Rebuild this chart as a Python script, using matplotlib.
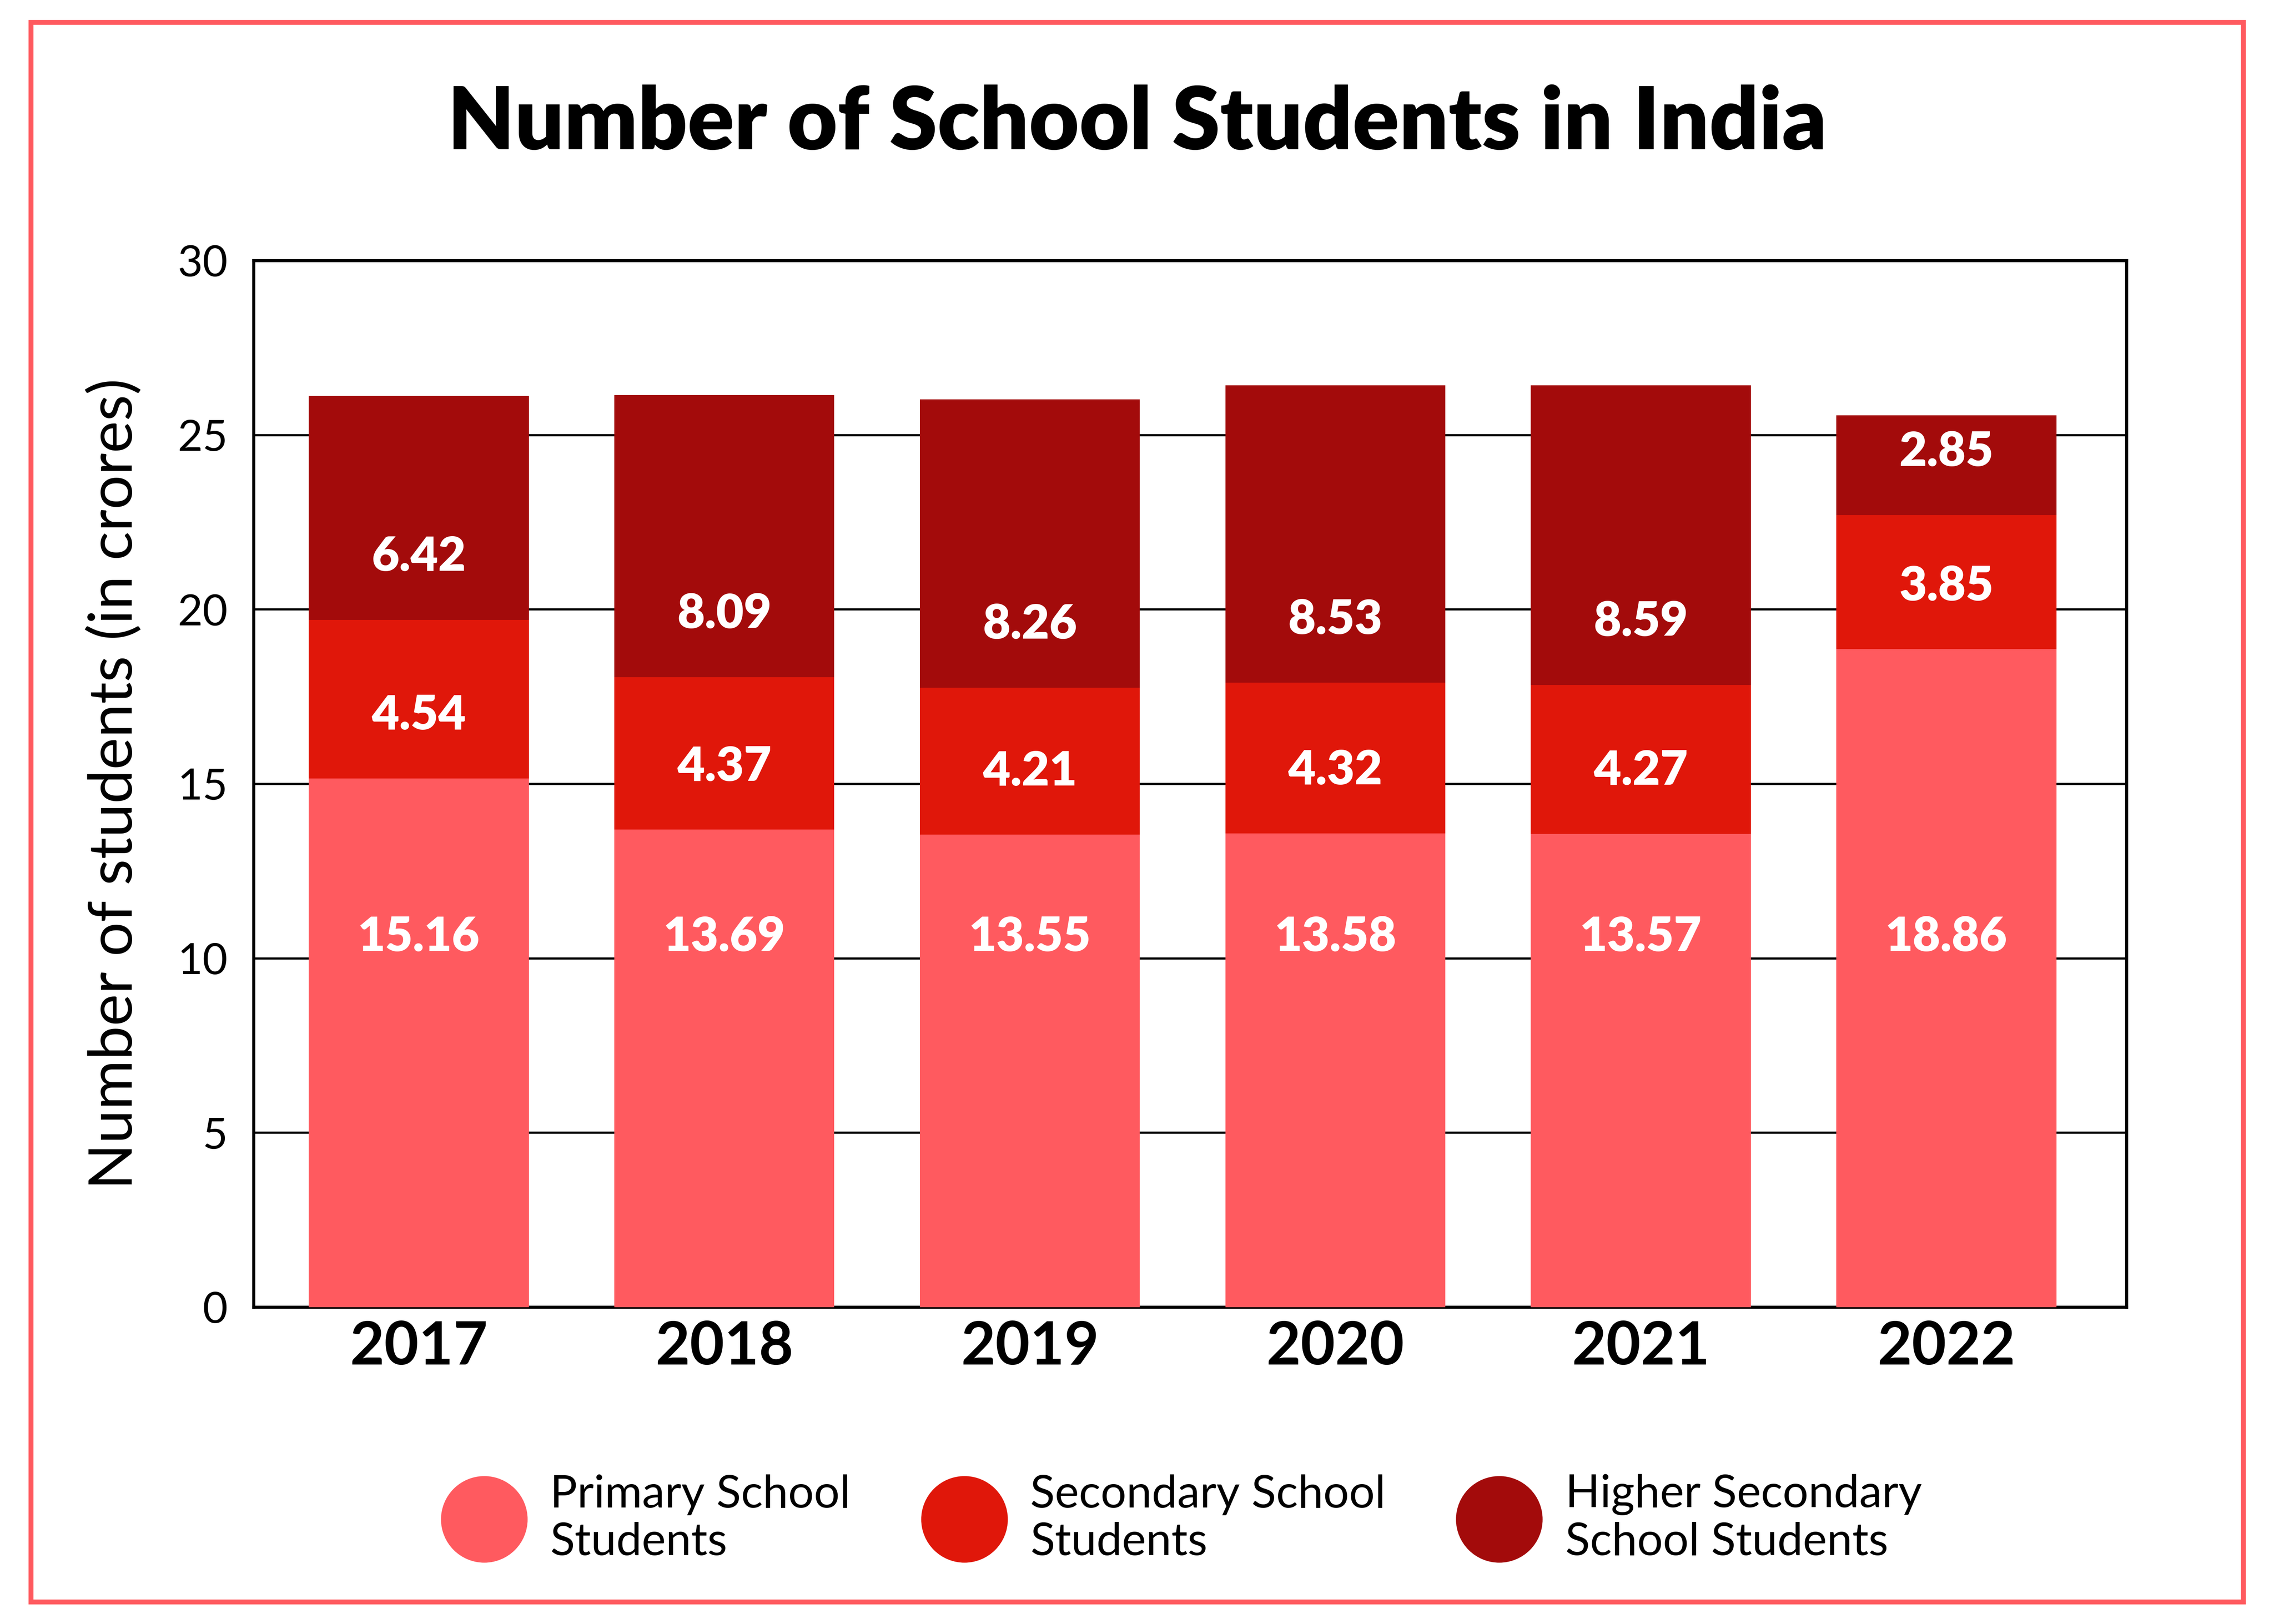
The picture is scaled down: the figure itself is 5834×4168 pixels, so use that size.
import matplotlib.pyplot as plt
import numpy as np
from matplotlib.lines import Line2D
from matplotlib.patches import Rectangle

years = ['2017', '2018', '2019', '2020', '2021', '2022']
primary = [15.16, 13.69, 13.55, 13.58, 13.57, 18.86]
secondary = [4.54, 4.37, 4.21, 4.32, 4.27, 3.85]
higher = [6.42, 8.09, 8.26, 8.53, 8.59, 2.85]
series_names = ['Primary School\nStudents', 'Secondary School\nStudents',
                'Higher Secondary\nSchool Students']

COLORS = ['#FF5A5F', '#E0170A', '#A30B0B']
FONT = ['Lato', 'DejaVu Sans']

plt.rcParams['font.family'] = FONT

fig = plt.figure(figsize=(14.585, 10.42), dpi=400)
# red frame around the whole card
fig.patches.append(Rectangle((0.01346, 0.01368), 0.97300, 0.97264, transform=fig.transFigure,
                             fill=False, edgecolor='#FF5A5F', linewidth=2.25, zorder=10))

ax = fig.add_axes([0.1116, 0.1951, 0.8236, 0.6444])
x = np.arange(len(years))
width = 0.72

bottom = np.zeros(len(years))
for vals, color in zip([primary, secondary, higher], COLORS):
    ax.bar(x, vals, width, bottom=bottom, color=color, zorder=3)
    bottom = bottom + np.array(vals)

# value labels (primary ones sit at a fixed height, the others near the segment base)
for i in range(len(years)):
    ax.text(x[i], 10.6, f'{primary[i]:.2f}', ha='center', va='center',
            color='white', fontsize=22, fontweight='heavy', zorder=4)
    b = primary[i]
    for vals in [secondary, higher]:
        h = vals[i]
        y = b + min(1.8, h / 2 + 0.4)
        ax.text(x[i], y, f'{h:.2f}', ha='center', va='center',
                color='white', fontsize=22, fontweight='heavy', zorder=4)
        b += h

ax.set_ylim(0, 30)
ax.set_xlim(-0.54, 5.59)
ax.set_yticks(range(0, 31, 5))
ax.set_xticks(x)
ax.set_xticklabels(years, fontsize=27.5, fontweight='bold')
ax.tick_params(axis='y', labelsize=20, length=0, pad=12)
ax.tick_params(axis='x', length=0, pad=6)
ax.yaxis.grid(True, color='black', linewidth=1.0, zorder=0)
ax.set_axisbelow(True)
for s in ax.spines.values():
    s.set_linewidth(1.4)
ax.set_ylabel('Number of students (in crores)', fontsize=28, labelpad=16)

fig.suptitle('Number of School Students in India', fontsize=40, fontweight='heavy', y=0.948)

handles = [Line2D([], [], marker='o', linestyle='none', markersize=40,
                  markerfacecolor=c, markeredgecolor='none') for c in COLORS]
fig.legend(handles, series_names, loc='center', bbox_to_anchor=(0.519, 0.065), ncol=3,
           frameon=False, fontsize=21, handletextpad=0.45, columnspacing=1.5)

fig.savefig('out.png', dpi=400, facecolor='white')
